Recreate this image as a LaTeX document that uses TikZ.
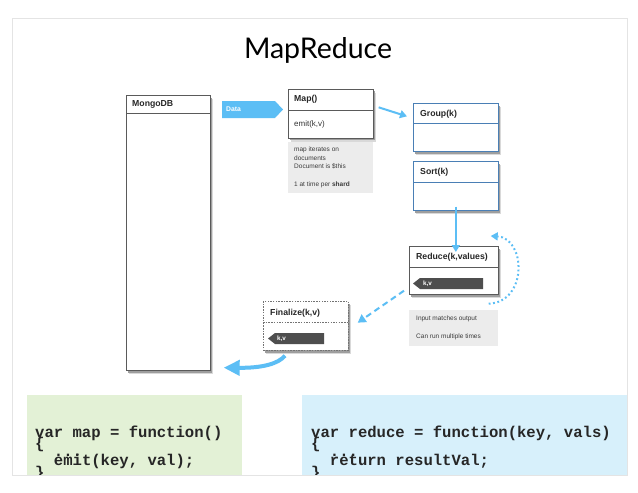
\documentclass[tikz,border=0pt]{standalone}
\usepackage{fontspec}
\setmainfont{Liberation Sans}
\newfontfamily\titlefont{Lato}
\newfontfamily\codefont{Liberation Mono}
\usetikzlibrary{calc,arrows.meta}
\definecolor{lblue}{RGB}{92,190,245}
\definecolor{boxgray}{RGB}{90,90,90}
\definecolor{steel}{RGB}{74,127,181}
\definecolor{notegray}{RGB}{236,236,236}
\definecolor{darkbar}{RGB}{78,78,78}
\definecolor{codegreen}{RGB}{227,241,214}
\definecolor{codeblue}{RGB}{215,240,251}
\definecolor{framegray}{RGB}{228,228,228}
\definecolor{notetext}{RGB}{60,60,60}
\begin{document}
\begin{tikzpicture}[x=1pt,y=-1pt,
  softshadow/.style={
    preaction={fill=black!15, transform canvas={shift={(2.2pt,-3.8pt)}}},
    preaction={fill=black!38, transform canvas={shift={(1.3pt,-2.5pt)}}}},
  umlbox/.style={softshadow, draw=boxgray, line width=0.7pt, fill=white, anchor=north west, inner sep=0pt},
  steelbox/.style={umlbox, draw=steel},
  dashbox/.style={umlbox, draw=black!55, dash pattern=on 1.5pt off 1.2pt},
  note/.style={fill=notegray, draw=none, anchor=north west, inner sep=0pt},
  hdr/.style={anchor=west, inner sep=0pt, font=\bfseries\fontsize{8.7}{10}\selectfont, text=black!85},
  body/.style={anchor=west, inner sep=0pt, font=\fontsize{8}{10}\selectfont, text=black!80},
  notetxt/.style={anchor=west, inner sep=0pt, font=\fontsize{6.5}{8}\selectfont, text=notetext},
  kvtxt/.style={anchor=west, inner sep=0pt, font=\bfseries\fontsize{6.3}{8}\selectfont, text=white},
  code/.style={anchor=base west, inner sep=0pt, font=\codefont\bfseries\fontsize{15.6}{16}\selectfont, text=black!85},
  flow/.style={draw=lblue, line width=2pt, -{Triangle[length=7pt,width=8pt]}},
]
\useasboundingbox (0,0) rectangle (638,493);
\fill[white] (0,0) rectangle (638,493);
\draw[framegray, line width=0.8pt] (12,18) rectangle (627,475);

% title
\node[anchor=base, inner sep=0pt, font=\titlefont\fontsize{28.5}{30}\selectfont] (title) at (318,58) {MapReduce};

% MongoDB
\node[umlbox, minimum width=84pt, minimum height=275pt] (mongo) at (126,95) {};
\draw[boxgray, line width=0.6pt] ($(mongo.north west)+(0,18)$) -- ($(mongo.north east)+(0,18)$);
\node[hdr] (mongol) at (132,104) {MongoDB};

% Data arrow
\fill[lblue] (222,101) -- (275,101) -- (283,109.5) -- (275,118) -- (222,118) -- cycle;
\node[kvtxt, font=\bfseries\fontsize{6.8}{8}\selectfont] (data) at (226,109.5) {Data};

% Map()
\node[umlbox, minimum width=85pt, minimum height=49pt] (map) at (288,88.5) {};
\draw[boxgray, line width=0.6pt] ($(map.north west)+(0,22)$) -- ($(map.north east)+(0,22)$);
\node[hdr] (mapl) at (294,99) {Map()};
\node[body] (emitl) at (294,124) {emit(k,v)};
\node[note, minimum width=85pt, minimum height=51pt] (mapnote) at (288,142) {};
\node[notetxt] (n1) at (294,150) {map iterates on};
\node[notetxt] (n2) at (294,158) {documents};
\node[notetxt] (n3) at (294,166) {Document is \$this};
\node[notetxt] (n4) at (294,185) {1 at time per \textbf{shard}};

% Group(k)
\node[steelbox, minimum width=85pt, minimum height=48pt] (group) at (413,103) {};
\draw[steel, line width=0.6pt] ($(group.north west)+(0,20)$) -- ($(group.north east)+(0,20)$);
\node[hdr] (groupl) at (420,114) {Group(k)};

% Sort(k)
\node[steelbox, minimum width=85pt, minimum height=49pt] (sort) at (413,161) {};
\draw[steel, line width=0.6pt] ($(sort.north west)+(0,21)$) -- ($(sort.north east)+(0,21)$);
\node[hdr] (sortl) at (420,172.5) {Sort(k)};

% Reduce
\node[umlbox, minimum width=89pt, minimum height=48pt] (reduce) at (409,246) {};
\draw[boxgray, line width=0.6pt] ($(reduce.north west)+(0,21)$) -- ($(reduce.north east)+(0,21)$);
\node[hdr] (reducel) at (416,257) {Reduce(k,values)};
\fill[darkbar] (413,283.5) -- (420,278) -- (483,278) -- (483,289) -- (420,289) -- cycle;
\node[kvtxt] (kv1) at (423,283.5) {k,v};
\node[note, minimum width=89pt, minimum height=36pt] (rednote) at (409,310) {};
\node[notetxt] (r1) at (416,319) {Input matches output};
\node[notetxt] (r2) at (416,337) {Can run multiple times};

% Finalize
\node[dashbox, minimum width=85pt, minimum height=49pt] (final) at (263,301) {};
\draw[black!55, line width=0.6pt, dash pattern=on 1.5pt off 1.2pt] ($(final.north west)+(0,21)$) -- ($(final.north east)+(0,21)$);
\node[hdr] (finall) at (270,313) {Finalize(k,v)};
\fill[darkbar] (268,338.5) -- (275,333) -- (324,333) -- (324,344) -- (275,344) -- cycle;
\node[kvtxt] (kv2) at (277,338.5) {k,v};

% connectors
\draw[flow] ([shift={(5,-6)}]map.east) -- ([shift={(-6,-11)}]group.west);
\draw[flow] ([yshift=4]sort.south) -- ([yshift=-6]sort.south |- reduce.north);
\draw[draw=lblue, line width=2pt, dash pattern=on 1.8pt off 2.6pt, -{Triangle[length=7pt,width=8pt]}]
  ([shift={(-10,9)}]reduce.south east) .. controls (528,302) and (526,238) .. ([shift={(-8,-10)}]reduce.north east);
\draw[draw=lblue, line width=2pt, dash pattern=on 6pt off 4pt, -{Triangle[length=8pt,width=9pt]}]
  ([shift={(-5,-4)}]reduce.south west) -- ([shift={(9,-28)}]final.south east);
\draw[draw=lblue, line width=4pt, -{Triangle[length=16pt,width=15pt]}]
  ([shift={(22,5)}]final.south west) .. controls (278,364) and (262,368) .. ([shift={(13,-3)}]mongo.south east);

% code boxes
\fill[codegreen] (27,395) rectangle (242,475);
\fill[codeblue] (302,395) rectangle (627,475);
\begin{scope}
\clip (27,395) rectangle (627,475);
\node[code] (c1) at (35,437) {var map = function()};
\node[code] (c2) at (35,448.5) {\{};
\node[code] (c3) at (35,456) {\phantom{xx}...};
\node[code] (c4) at (35,465.5) {\phantom{xx}emit(key, val);};
\node[code] (c5) at (35,477) {\}};
\node[code] (d1) at (311,437) {var reduce = function(key, vals)};
\node[code] (d2) at (311,448.5) {\{};
\node[code] (d3) at (311,456) {\phantom{xx}...};
\node[code] (d4) at (311,465.5) {\phantom{xx}return resultVal;};
\node[code] (d5) at (311,477) {\}};
\end{scope}
\draw[framegray, line width=0.8pt] (12,475) -- (627,475);
\end{tikzpicture}
\end{document}
